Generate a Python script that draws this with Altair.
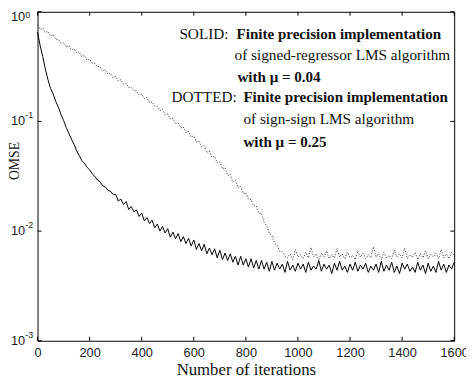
import altair as alt
import pandas as pd

# ---------------- data ----------------
iterations = list(range(0, 1601, 10))

# SOLID: signed-regressor LMS, mu = 0.04
solid_omse = [
    0.65, 0.49, 0.39, 0.30, 0.24, 0.20, 0.178, 0.152, 0.135, 0.116,
    0.102, 0.088, 0.078, 0.069, 0.062, 0.054, 0.049, 0.044, 0.0415, 0.0382,
    0.0362, 0.0333, 0.0316, 0.0292, 0.0282, 0.0259, 0.0252, 0.0236, 0.0231, 0.0216,
    0.0217, 0.0188, 0.0196, 0.0175, 0.0186, 0.0158, 0.0167, 0.0150, 0.0156, 0.0136,
    0.0146, 0.0124, 0.0133, 0.0117, 0.0126, 0.0107, 0.0116, 0.0100, 0.0110, 0.0096,
    0.0105, 0.0088, 0.0098, 0.0085, 0.0095, 0.0080, 0.0089, 0.0077, 0.0086, 0.0073,
    0.0083, 0.0068, 0.0077, 0.0066, 0.0076, 0.0062, 0.0070, 0.0061, 0.0069, 0.0057,
    0.0067, 0.0055, 0.0063, 0.0054, 0.0062, 0.0052, 0.0059, 0.0049, 0.0059, 0.0049,
    0.0056, 0.0047, 0.0056, 0.0046, 0.0054, 0.0045, 0.0054, 0.0045, 0.0052, 0.0043,
    0.0053, 0.0044, 0.0051, 0.0045, 0.0050, 0.0042, 0.0053, 0.0044, 0.0049, 0.0043,
    0.0051, 0.0045, 0.0050, 0.0042, 0.0052, 0.0044, 0.0048, 0.0045, 0.0054, 0.0043,
    0.0050, 0.0045, 0.0049, 0.0041, 0.0051, 0.0044, 0.0053, 0.0044, 0.0048, 0.0042,
    0.0050, 0.0044, 0.0052, 0.0043, 0.0049, 0.0045, 0.0051, 0.0042, 0.0048, 0.0044,
    0.0050, 0.0042, 0.0053, 0.0043, 0.0049, 0.0044, 0.0052, 0.0042, 0.0048, 0.0041,
    0.0051, 0.0045, 0.0050, 0.0043, 0.0047, 0.0042, 0.0052, 0.0044, 0.0049, 0.0041,
    0.0051, 0.0043, 0.0048, 0.0042, 0.0053, 0.0044, 0.0050, 0.0042, 0.0049, 0.0045,
    0.0052,
]

# DOTTED: sign-sign LMS, mu = 0.25
dotted_omse = [
    0.76, 0.69, 0.71, 0.65, 0.66, 0.60, 0.62, 0.56, 0.56, 0.52,
    0.52, 0.48, 0.49, 0.45, 0.46, 0.42, 0.43, 0.39, 0.40, 0.36,
    0.37, 0.34, 0.34, 0.316, 0.316, 0.288, 0.295, 0.269, 0.275, 0.251,
    0.257, 0.234, 0.240, 0.219, 0.224, 0.204, 0.204, 0.191, 0.191, 0.174,
    0.178, 0.162, 0.166, 0.148, 0.151, 0.138, 0.138, 0.126, 0.129, 0.115,
    0.117, 0.105, 0.107, 0.095, 0.098, 0.087, 0.089, 0.079, 0.081, 0.072,
    0.074, 0.065, 0.066, 0.059, 0.060, 0.052, 0.054, 0.047, 0.048, 0.042,
    0.043, 0.037, 0.038, 0.032, 0.033, 0.028, 0.029, 0.025, 0.0257, 0.0219,
    0.0224, 0.0195, 0.0195, 0.0170, 0.0170, 0.0145, 0.0145, 0.0120, 0.0112, 0.0095,
    0.0091, 0.0078, 0.0074, 0.0066, 0.0065, 0.0059,
    0.0057, 0.0062, 0.0055, 0.0068, 0.0058, 0.0061, 0.0056, 0.0064, 0.0057, 0.0071,
    0.0058, 0.0062, 0.0055, 0.0063, 0.0058, 0.0066, 0.0056, 0.0061, 0.0057, 0.0069,
    0.0058, 0.0062, 0.0056, 0.0064, 0.0057, 0.0060, 0.0055, 0.0066, 0.0058, 0.0063,
    0.0056, 0.0061, 0.0057, 0.0072, 0.0058, 0.0062, 0.0055, 0.0064, 0.0057, 0.0060,
    0.0056, 0.0067, 0.0058, 0.0062, 0.0057, 0.0070, 0.0056, 0.0061, 0.0058, 0.0064,
    0.0055, 0.0062, 0.0057, 0.0066, 0.0056, 0.0061, 0.0058, 0.0063, 0.0056, 0.0068,
    0.0057, 0.0062, 0.0056, 0.0064, 0.0060,
]

assert len(solid_omse) == len(iterations), len(solid_omse)
assert len(dotted_omse) == len(iterations), len(dotted_omse)

x_ticks = [0, 200, 400, 600, 800, 1000, 1200, 1400, 1600]
y_ticks = [0.001, 0.01, 0.1, 1]
y_exponents = ["-3", "-2", "-1", "0"]

notes_regular = [
    ("SOLID:", 144, 28),
    ("of signed-regressor LMS algorithm", 200, 49),
    ("DOTTED:", 136, 92),
    ("of sign-sign LMS algorithm", 209, 114),
]
notes_bold = [
    ("Finite precision implementation", 202, 28),
    ("with  \u03bc = 0.04", 203, 71),
    ("Finite precision implementation", 209, 92),
    ("with  \u03bc = 0.25", 209, 137),
]

# ---------------- chart ----------------
W, H = 423, 334
SANS = "Liberation Sans"
SERIF = "Liberation Serif"
LABEL_COLOR = "#222"

solid_df = pd.DataFrame({"it": iterations, "omse": solid_omse})
dotted_df = pd.DataFrame({"it": iterations, "omse": dotted_omse})

x_scale = alt.Scale(domain=[0, 1600], nice=False, zero=False)
y_scale = alt.Scale(type="log", domain=[0.001, 1], nice=False)

x_axis = alt.Axis(
    values=x_ticks, format="d", title="Number of iterations", grid=False, ticks=False,
    domain=False, labelFlush=False, labelFont=SANS, labelFontSize=13,
    labelColor=LABEL_COLOR, labelPadding=6,
    titleFont=SERIF, titleFontSize=17, titleFontWeight="normal", titleColor="#111",
    titlePadding=2,
)
y_axis = alt.Axis(
    values=y_ticks, labels=False, title="OMSE", grid=False, ticks=False, domain=False,
    titleFont=SERIF, titleFontSize=14, titleFontWeight="normal", titleColor="#111",
    titleX=-19, titleY=151, titleAngle=-90, titleBaseline="alphabetic", titleAlign="center",
)

X = lambda: alt.X("it:Q", scale=x_scale, axis=x_axis)
Y = lambda: alt.Y("omse:Q", scale=y_scale, axis=y_axis)

solid = alt.Chart(solid_df).mark_line(color="black", strokeWidth=1).encode(x=X(), y=Y())
dotted = alt.Chart(dotted_df).mark_line(
    color="#444", strokeWidth=1, strokeDash=[1.2, 1.6]
).encode(x=X(), y=Y())

xt_df = pd.DataFrame({"it": x_ticks})
yt_df = pd.DataFrame({"omse": y_ticks, "exp": y_exponents})
tick_layers = [
    alt.Chart(xt_df).mark_rule(color="black", strokeWidth=1).encode(
        x=X(), y=alt.value(H), y2=alt.value(H - 4)),
    alt.Chart(xt_df).mark_rule(color="black", strokeWidth=1).encode(
        x=X(), y=alt.value(0), y2=alt.value(4)),
    alt.Chart(yt_df).mark_rule(color="black", strokeWidth=1).encode(
        y=Y(), x=alt.value(0), x2=alt.value(4)),
    alt.Chart(yt_df).mark_rule(color="black", strokeWidth=1).encode(
        y=Y(), x=alt.value(W), x2=alt.value(W - 4)),
]

# y tick labels: "10" with a raised exponent
ylabel_layers = []
for cond, dy_base, dy_exp in ((alt.datum.omse < 0.5, 0, -6), (alt.datum.omse >= 0.5, 5, 3)):
    base = alt.Chart(yt_df).transform_filter(cond)
    ylabel_layers.append(
        base.mark_text(font=SANS, fontSize=13, color=LABEL_COLOR, align="right",
                       baseline="middle", dy=dy_base)
        .encode(y=Y(), x=alt.value(-12.5), text=alt.value("10"))
    )
    ylabel_layers.append(
        base.mark_text(font=SANS, fontSize=9, color=LABEL_COLOR, align="left",
                       baseline="middle", dy=dy_exp)
        .encode(y=Y(), x=alt.value(-12.5), text="exp:N")
    )

text_layers = []
for notes, weight, size in ((notes_regular, "normal", 15.5), (notes_bold, "bold", 15.3)):
    for txt, px, py in notes:
        text_layers.append(
            alt.Chart(pd.DataFrame({"t": [txt]})).mark_text(
                font=SERIF, fontSize=size, fontWeight=weight, color="#111",
                align="left", baseline="alphabetic",
            ).encode(text="t:N", x=alt.value(px), y=alt.value(py))
        )

chart = alt.layer(solid, dotted, *tick_layers, *ylabel_layers, *text_layers).properties(
    width=W, height=H,
    background="white",
    autosize=alt.AutoSizeParams(type="none"),
    padding={"left": 30, "top": 1, "right": 12, "bottom": 36},
).configure_view(stroke="black", strokeWidth=1)

chart.save("out.html", embed_options={"renderer": "svg", "actions": False})
